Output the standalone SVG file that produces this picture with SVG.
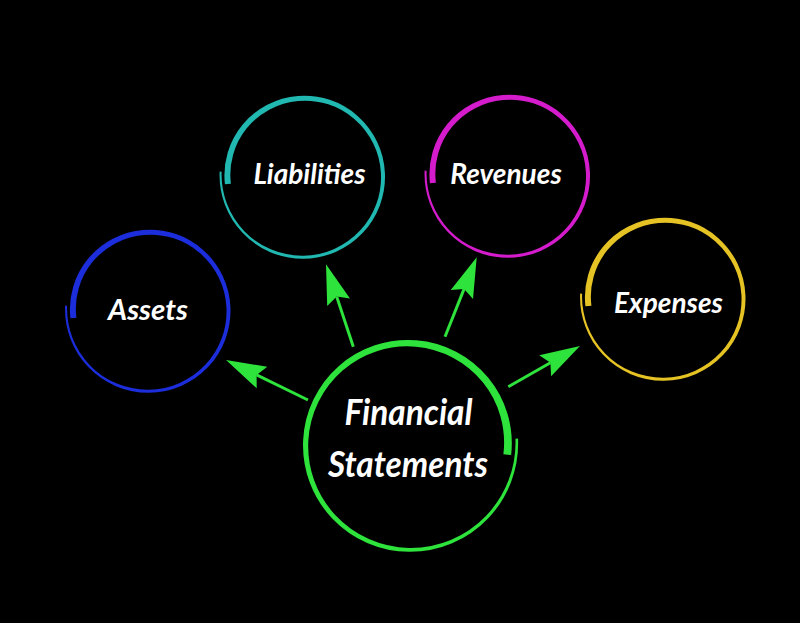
<svg xmlns="http://www.w3.org/2000/svg" width="800" height="623" viewBox="0 0 800 623">
<style>
.lbl{fill:#ffffff;font-family:Lato,"Open Sans","DejaVu Sans",sans-serif;font-style:italic;font-weight:700;text-anchor:middle}
.sm{font-size:28px}
.lg{font-size:37px}
.arrow{stroke:#2ee33b;stroke-width:3;fill:none;marker-end:url(#ah)}
</style>
<defs>
<path id="ring" d="M -78.57 8.26 A 79.31 79.31 0 0 1 -60.99 -51.18 A 79.94 79.94 0 0 1 -5.60 -80.05 A 80.56 80.56 0 0 1 54.11 -60.10 A 81.18 81.18 0 0 1 81.44 -2.84 A 81.8 81.8 0 0 1 59.07 57.05 A 82.43 82.43 0 0 1 0 82.74 A 83.06 83.06 0 0 1 -60.98 56.87 A 83.69 83.69 0 0 1 -83.88 -4.40 L -81.89 -4.29 A 81.44 81.44 0 0 0 -59.15 55.16 A 80.3 80.3 0 0 0 0 79.73 A 79.17 79.17 0 0 0 56.55 54.61 A 78.05 78.05 0 0 0 77.44 -2.70 A 76.93 76.93 0 0 0 51.10 -56.75 A 75.8 75.8 0 0 0 -5.25 -75.06 A 74.68 74.68 0 0 0 -56.78 -47.64 A 73.56 73.56 0 0 0 -72.60 7.63 Z"/>
<marker id="ah" viewBox="0 -15 44 30" markerWidth="44" markerHeight="30" refX="6" refY="0" orient="auto" markerUnits="userSpaceOnUse" overflow="visible">
<path d="M40 0 L0 -12 L6 0 L0 12 Z" fill="#2ee33b"/>
</marker>
</defs>
<rect x="0" y="0" width="800" height="623" fill="#000000"/>
<g id="connectors">
<line class="arrow" x1="308" y1="400" x2="256.6" y2="374.9"/>
<line class="arrow" x1="353.3" y1="346.7" x2="336.7" y2="296.6"/>
<line class="arrow" x1="445" y1="336.7" x2="464.1" y2="288.9"/>
<line class="arrow" x1="508.3" y1="386.7" x2="550.4" y2="362.8"/>
</g>
<g id="assets">
<use href="#ring" fill="#1c2ddb" transform="translate(149,310)"/>
<text class="lbl sm" x="148" y="320" textLength="80" lengthAdjust="spacingAndGlyphs">Assets</text>
</g>
<g id="liabilities">
<use href="#ring" fill="#20b8b0" transform="translate(303.5,176)"/>
<text class="lbl sm" x="309.5" y="184">Liabilities</text>
</g>
<g id="revenues">
<use href="#ring" fill="#d41ccc" transform="translate(508.5,175)"/>
<text class="lbl sm" x="506" y="184">Revenues</text>
</g>
<g id="expenses">
<use href="#ring" fill="#e6c324" transform="translate(664,298)"/>
<text class="lbl sm" x="668.5" y="313">Expenses</text>
</g>
<g id="financial-statements">
<use href="#ring" fill="#2ee33b" transform="translate(409,444.3) scale(-1.3,1.3)"/>
<text class="lbl lg" x="408.5" y="425" textLength="128" lengthAdjust="spacingAndGlyphs">Financial</text>
<text class="lbl lg" x="408" y="477" textLength="160" lengthAdjust="spacingAndGlyphs">Statements</text>
</g>
</svg>
